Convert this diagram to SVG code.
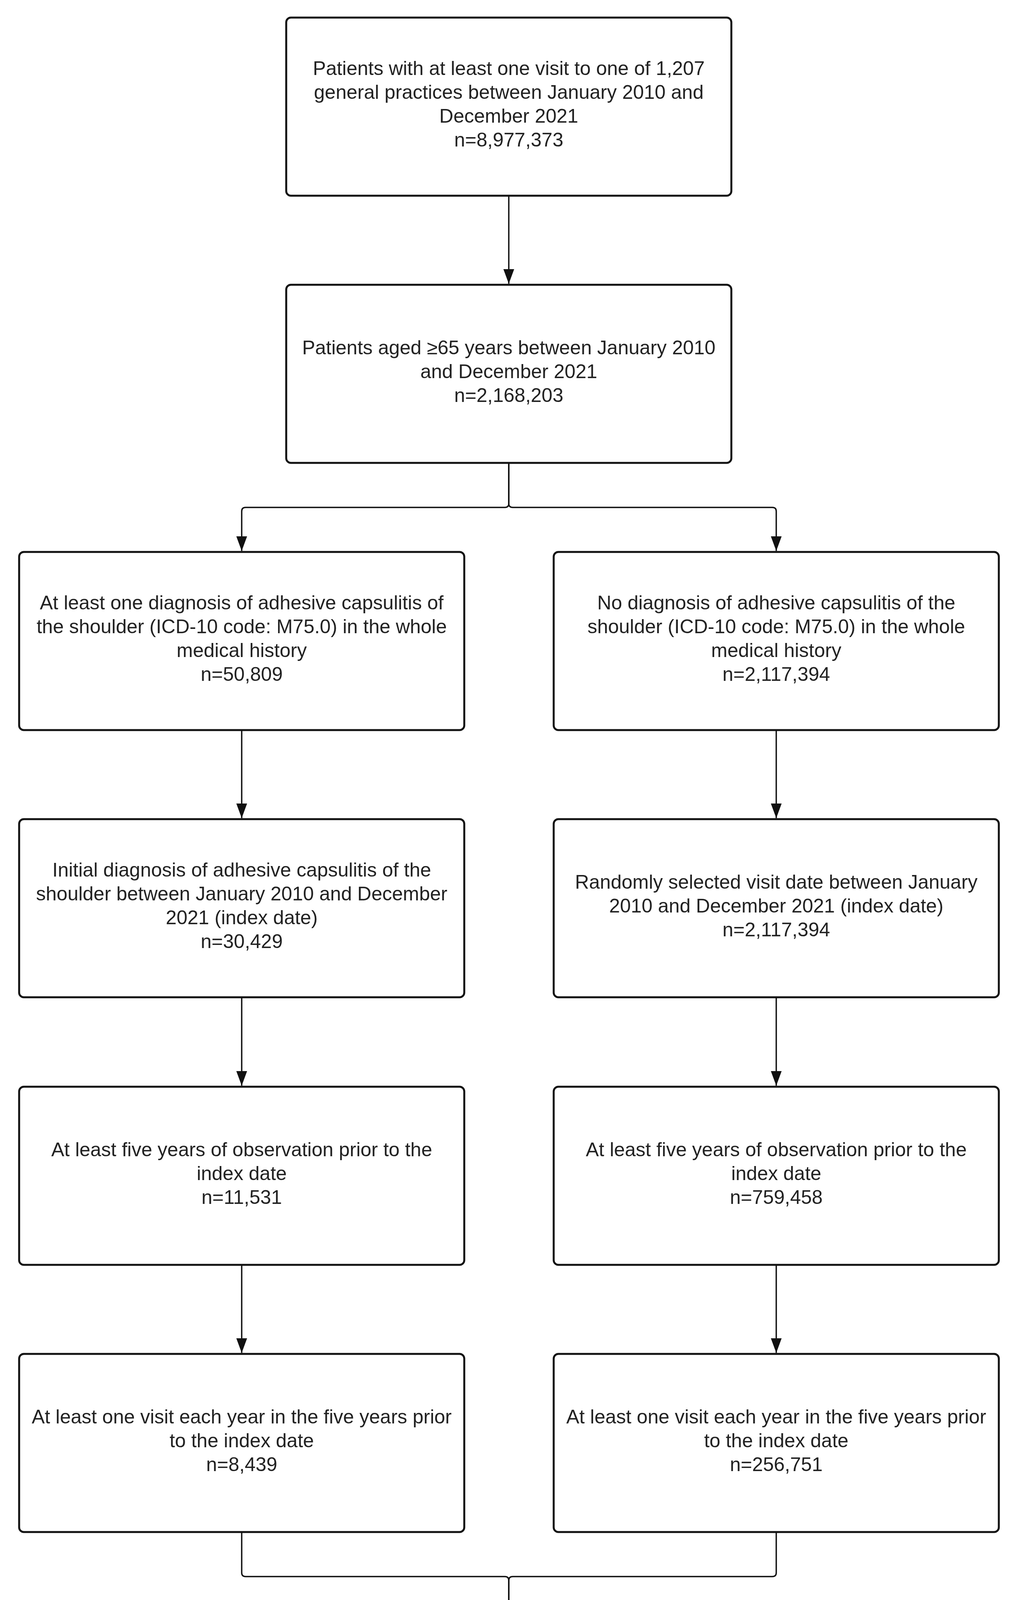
<svg xmlns="http://www.w3.org/2000/svg" width="2602" height="5335" viewBox="0 0 2602 5335">
<style>
.box{fill:#ffffff;stroke:#111111;stroke-width:5}
.t{font-family:"Liberation Sans",Arial,sans-serif;font-size:50px;fill:#222222;text-anchor:middle}
.c{fill:none;stroke:#111111;stroke-width:3.5;marker-end:url(#arr)}
</style>
<defs>
<marker id="arr" markerUnits="userSpaceOnUse" markerWidth="38" markerHeight="28" viewBox="0 0 38 28" refX="38" refY="14" orient="auto">
<path d="M0,0 L38,14 L0,28 Z" fill="#111111"/>
</marker>
</defs>
<rect width="2602" height="5335" fill="#ffffff"/>
<g id="connectors">
<path class="c" d="M1303,501 V726.5"/>
<path class="c" d="M1303,1185 V1289 Q1303,1299 1293,1299 H629 Q619,1299 619,1309 V1410.5"/>
<path class="c" d="M1303,1185 V1289 Q1303,1299 1313,1299 H1978 Q1988,1299 1988,1309 V1410.5"/>
<path class="c" d="M619,1869 V2094.5"/>
<path class="c" d="M1988,1869 V2094.5"/>
<path class="c" d="M619,2553 V2779.5"/>
<path class="c" d="M1988,2553 V2779.5"/>
<path class="c" d="M619,3238 V3463.5"/>
<path class="c" d="M1988,3238 V3463.5"/>
<path class="c" d="M619,3922 V4026 Q619,4036 629,4036 H1293 Q1303,4036 1303,4046 V4147.5"/>
<path class="c" d="M1988,3922 V4026 Q1988,4036 1978,4036 H1313 Q1303,4036 1303,4046 V4147.5"/>
<path class="c" d="M1303,4606 V4710 Q1303,4720 1293,4720 H629 Q619,4720 619,4730 V4831.5"/>
<path class="c" d="M1303,4606 V4710 Q1303,4720 1313,4720 H1978 Q1988,4720 1988,4730 V4831.5"/>
</g>
<g id="n1">
<rect class="box" x="733" y="45" width="1140" height="456" rx="12"/>
<text class="t" x="1303" y="192">Patients with at least one visit to one of 1,207</text>
<text class="t" x="1303" y="253">general practices between January 2010 and</text>
<text class="t" x="1303" y="314">December 2021</text>
<text class="t" x="1303" y="375">n=8,977,373</text>
</g>
<g id="n2">
<rect class="box" x="733" y="729" width="1140" height="456" rx="12"/>
<text class="t" x="1303" y="907">Patients aged ≥65 years between January 2010</text>
<text class="t" x="1303" y="968">and December 2021</text>
<text class="t" x="1303" y="1029">n=2,168,203</text>
</g>
<g id="n3a">
<rect class="box" x="49" y="1413" width="1140" height="456" rx="12"/>
<text class="t" x="619" y="1560">At least one diagnosis of adhesive capsulitis of</text>
<text class="t" x="619" y="1621">the shoulder (ICD-10 code: M75.0) in the whole</text>
<text class="t" x="619" y="1682">medical history</text>
<text class="t" x="619" y="1743">n=50,809</text>
</g>
<g id="n3b">
<rect class="box" x="1418" y="1413" width="1140" height="456" rx="12"/>
<text class="t" x="1988" y="1560">No diagnosis of adhesive capsulitis of the</text>
<text class="t" x="1988" y="1621">shoulder (ICD-10 code: M75.0) in the whole</text>
<text class="t" x="1988" y="1682">medical history</text>
<text class="t" x="1988" y="1743">n=2,117,394</text>
</g>
<g id="n4a">
<rect class="box" x="49" y="2097" width="1140" height="456" rx="12"/>
<text class="t" x="619" y="2244">Initial diagnosis of adhesive capsulitis of the</text>
<text class="t" x="619" y="2305">shoulder between January 2010 and December</text>
<text class="t" x="619" y="2366">2021 (index date)</text>
<text class="t" x="619" y="2427">n=30,429</text>
</g>
<g id="n4b">
<rect class="box" x="1418" y="2097" width="1140" height="456" rx="12"/>
<text class="t" x="1988" y="2275">Randomly selected visit date between January</text>
<text class="t" x="1988" y="2336">2010 and December 2021 (index date)</text>
<text class="t" x="1988" y="2397">n=2,117,394</text>
</g>
<g id="n5a">
<rect class="box" x="49" y="2782" width="1140" height="456" rx="12"/>
<text class="t" x="619" y="2960">At least five years of observation prior to the</text>
<text class="t" x="619" y="3021">index date</text>
<text class="t" x="619" y="3082">n=11,531</text>
</g>
<g id="n5b">
<rect class="box" x="1418" y="2782" width="1140" height="456" rx="12"/>
<text class="t" x="1988" y="2960">At least five years of observation prior to the</text>
<text class="t" x="1988" y="3021">index date</text>
<text class="t" x="1988" y="3082">n=759,458</text>
</g>
<g id="n6a">
<rect class="box" x="49" y="3466" width="1140" height="456" rx="12"/>
<text class="t" x="619" y="3644">At least one visit each year in the five years prior</text>
<text class="t" x="619" y="3705">to the index date</text>
<text class="t" x="619" y="3766">n=8,439</text>
</g>
<g id="n6b">
<rect class="box" x="1418" y="3466" width="1140" height="456" rx="12"/>
<text class="t" x="1988" y="3644">At least one visit each year in the five years prior</text>
<text class="t" x="1988" y="3705">to the index date</text>
<text class="t" x="1988" y="3766">n=256,751</text>
</g>
<g id="n7">
<rect class="box" x="733" y="4150" width="1140" height="456" rx="12"/>
<text class="t" x="1303" y="4363">Propensity score matching (1:5) based on age,</text>
<text class="t" x="1303" y="4424">sex, and index year</text>
</g>
<g id="n8a">
<rect class="box" x="49" y="4834" width="1140" height="456" rx="12"/>
<text class="t" x="619" y="5045">Patients with adhesive capsulitis of the shoulder</text>
<text class="t" x="619" y="5106">n=8,439</text>
</g>
<g id="n8b">
<rect class="box" x="1418" y="4834" width="1140" height="456" rx="12"/>
<text class="t" x="1988" y="5010">Patients without adhesive capsulitis of the</text>
<text class="t" x="1988" y="5070">shoulder</text>
<text class="t" x="1988" y="5130">n=42,195</text>
</g>
</svg>
